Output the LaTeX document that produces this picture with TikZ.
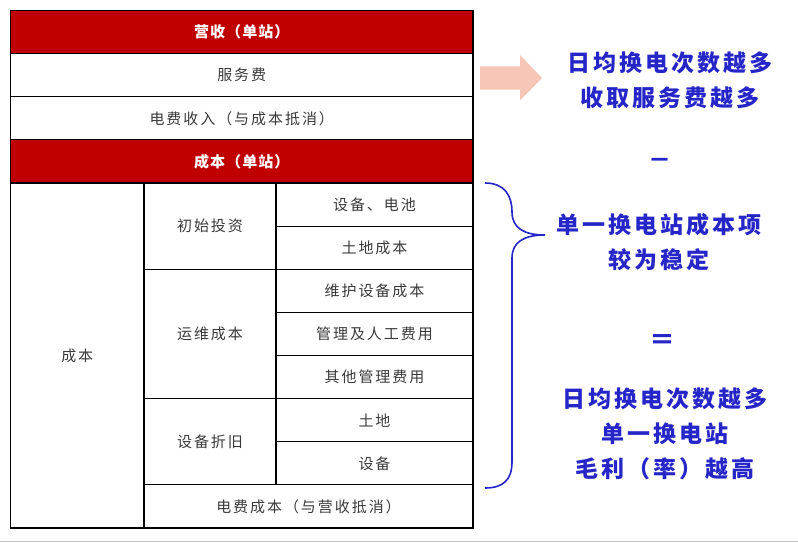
\documentclass[tikz,border=0pt]{standalone}
\usepackage{fontspec}
\newfontfamily\cjkcell[LetterSpace=13]{Noto Sans CJK SC}
\newfontfamily\cjkhead[LetterSpace=7]{Noto Sans CJK SC}
\newfontfamily\cjkblue[LetterSpace=13]{Noto Sans CJK SC}
\definecolor{hdred}{HTML}{C00000}
\definecolor{tabtext}{HTML}{3A3A3A}
\definecolor{bluetxt}{HTML}{2626C8}
\definecolor{arrowpink}{HTML}{F8C6B6}
\definecolor{framegray}{HTML}{C4C4C4}
\tikzset{
  cell/.style={draw=black, line width=1.2pt, fill=white, inner sep=0pt,
    text=tabtext, font=\cjkcell\fontsize{15}{15}\selectfont},
  headcell/.style={cell, fill=hdred, text=white,
    font=\cjkhead\bfseries\fontsize{15}{15}\selectfont},
  bluetext/.style={text=bluetxt, align=center, inner sep=0pt,
    font=\cjkblue\bfseries\fontsize{23}{35}\selectfont},
  bracestyle/.style={draw=bluetxt, line width=1.6pt},
}
\begin{document}
\begin{tikzpicture}[x=1pt, y=-1pt]
\useasboundingbox (0,0) rectangle (798,543);
\fill[white] (0,0) rectangle (798,543);
\draw[framegray, line width=1.2pt] (0,541.5) -- (798,541.5);

% revenue part
\node[headcell, minimum width=462.5pt, minimum height=43.125pt] (h1) at (241.75,32.06) {营收（单站）};
\node[cell, minimum width=462.5pt, minimum height=43.125pt] (fw) at (241.75,75.19) {服务费};
\node[cell, minimum width=462.5pt, minimum height=43.125pt] (dfsr) at (241.75,118.31) {电费收入（与成本抵消）};
\node[headcell, minimum width=462.5pt, minimum height=43.125pt] (h2) at (241.75,161.44) {成本（单站）};

% cost part
\node[cell, minimum width=133.5pt, minimum height=345pt] (cb) at (77.25,355.5) {成本};
\node[cell, minimum width=132pt, minimum height=86.25pt] (cs) at (210,226.1) {初始投资};
\node[cell, minimum width=197pt, minimum height=43.125pt] (sbdc) at (374.5,204.56) {设备、电池};
\node[cell, minimum width=197pt, minimum height=43.125pt] (tdcb) at (374.5,247.69) {土地成本};
\node[cell, minimum width=132pt, minimum height=129.4pt] (yw) at (210,333.94) {运维成本};
\node[cell, minimum width=197pt, minimum height=43.125pt] (whsb) at (374.5,290.81) {维护设备成本};
\node[cell, minimum width=197pt, minimum height=43.125pt] (glry) at (374.5,333.94) {管理及人工费用};
\node[cell, minimum width=197pt, minimum height=43.125pt] (qtgl) at (374.5,377.06) {其他管理费用};
\node[cell, minimum width=132pt, minimum height=86.25pt] (zj) at (210,441.75) {设备折旧};
\node[cell, minimum width=197pt, minimum height=43.125pt] (td) at (374.5,420.19) {土地};
\node[cell, minimum width=197pt, minimum height=43.125pt] (sb) at (374.5,463.31) {设备};
\node[cell, minimum width=329pt, minimum height=43.125pt] (dfcb) at (308.5,506.44) {电费成本（与营收抵消）};
\draw[black, line width=1.5pt] (10.5,10.5) rectangle (473,528);

% arrow
\fill[arrowpink] (480,66.5) -- (520,66.5) -- (520,55) -- (542,78) -- (520,100.5) -- (520,89.5) -- (480,89.5) -- cycle;

% right texts
\node[bluetext] (t1) at (670,80.5) {日均换电次数越多\\收取服务费越多};
\node[bluetext] (mn) at (660,163) {－};
\node[bluetext] (t2) at (659,242.5) {单一换电站成本项\\较为稳定};
\node[bluetext, font=\cjkblue\bfseries\fontsize{26}{26}\selectfont] (eq) at (662,342) {＝};
\node[bluetext] (t3) at (665,434) {日均换电次数越多\\单一换电站\\毛利（率）越高};

% brace
\coordinate (bt) at (485,183);
\coordinate (tip) at (545,235);
\coordinate (bb) at (485,488);
\draw[bracestyle] (bt) .. controls (505,183) and (512,196) .. (512,212)
  .. controls (512,228) and (524,235) .. (tip);
\draw[bracestyle] (tip) .. controls (524,235) and (512,242) .. (512,258)
  -- (512,462) .. controls (512,480) and (503,488) .. (bb);
\end{tikzpicture}
\end{document}
